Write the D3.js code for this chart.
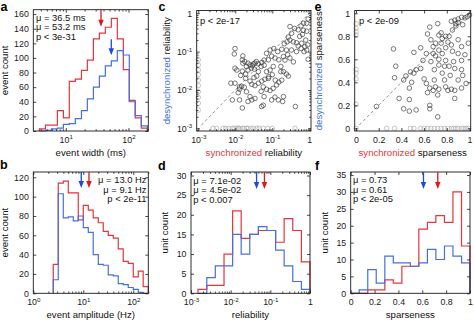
<!DOCTYPE html>
<meta charset="utf-8">
<style>

body {
  margin: 0;
  background: white;
}

svg {
  display: block;
  font-family: "Liberation Sans", Arial, sans-serif;
}

.axis {
  color: #1a1a1a;
}

.axis text {
  font-size: 8.8px;
  font-family: "Liberation Sans", Arial, sans-serif;
}

.axis line {
  stroke-width: 0.8px;
}

.frame {
  fill: none;
  stroke: #1a1a1a;
  stroke-width: 0.9px;
}

.lab {
  font-size: 9.6px;
  fill: #111;
}

.leg {
  font-size: 9.4px;
  fill: #111;
}

.panel-id {
  font-size: 12.5px;
  font-weight: bold;
}

.hist {
  fill: none;
  stroke-width: 1.2px;
}

.dot {
  fill: none;
  stroke: #333;
  stroke-width: 0.65px;
}

.dot.zero {
  stroke: #aaa;
}

.diag {
  stroke: #888;
  stroke-width: 0.9px;
  stroke-dasharray: 3 2.5;
}

</style>
<svg></svg>
<script src="https://cdn.jsdelivr.net/npm/d3@7"></script>
<script>

var width = 474;
var height = 321;
var red = '#e8343d';
var blue = '#4470e2';
var redArrow = '#e0161f';
var blueArrow = '#1f4adc';

// a: event width (ms)
var widthEdges = [3.8, 4.74, 5.91, 7.36, 9.17, 11.4, 14.2, 17.8, 22.1, 27.6, 34.4, 42.8, 53.3, 66.4, 82.8, 103, 128, 160, 200];
var widthSync = [3, 8, 8, 28, 18, 68, 71, 83, 97, 126, 134, 142, 154, 126, 84, 42, 18, 4];
var widthDesync = [0, 1, 3, 4, 9, 10, 17, 28, 44, 60, 75, 89, 96, 110, 104, 40, 21, 7];
var widthMeans = [36.5, 53.2];
var widthText = ['\u03bc = 36.5 ms', '\u03bc = 53.2 ms', 'p < 3e-31'];

// b: event amplitude (Hz)
var ampEdges = [2.51, 3.16, 3.98, 5.01, 6.31, 7.94, 10, 12.6, 15.8, 20, 25.1, 31.6, 39.8, 50.1, 63.1, 79.4, 100, 126, 158, 200];
var ampSync = [30, 114, 116, 104, 104, 76, 91, 86, 78, 73, 64, 60, 57, 46, 33, 31, 17, 23, 7];
var ampDesync = [14, 103, 78, 79, 75, 80, 68, 63, 40, 30, 29, 19, 18, 10, 9, 6, 4, 1, 0];
var ampMeans = [13.0, 9.1];
var ampText = ['\u03bc = 13.0 Hz', '\u03bc = 9.1 Hz', 'p < 2e-11'];

// c: reliability per unit, synchronized vs desynchronized
var relSync = [0.93, 0.6, 0.3, 0.5, 0.69, 0.85, 0.33, 0.27, 0.25, 0.21, 0.3, 0.37, 0.45, 0.62, 0.76, 0.6, 0.85, 0.72, 0.93, 0.45,
  0.33, 0.24, 0.18, 0.14, 0.11, 0.087, 0.07, 0.096, 0.078, 0.06, 0.052, 0.042, 0.034, 0.029, 0.025, 0.02, 0.016, 0.0155, 0.016, 0.0098,
  0.0094, 0.118, 0.15, 0.2, 0.26, 0.22, 0.17, 0.3, 0.37, 0.2, 0.17, 0.24, 0.27, 0.106, 0.087, 0.07, 0.1, 0.08, 0.063, 0.052,
  0.042, 0.034, 0.028, 0.057, 0.07, 0.087, 0.105, 0.13, 0.15, 0.18, 0.12, 0.05, 0.06, 0.034, 0.028, 0.022, 0.025, 0.02, 0.0175, 0.0148,
  0.013, 0.012, 0.013, 0.0155, 0.042, 0.033, 0.027, 0.022, 0.019, 0.0155, 0.014, 0.019, 0.025, 0.032, 0.038, 0.05, 0.06, 0.037, 0.031, 0.022,
  0.018, 0.011, 0.0098, 0.0076, 0.0098, 0.013, 0.096, 0.118, 0.145, 0.2, 0.19, 0.0515, 0.057, 0.42, 0.0083, 0.078, 0.4, 0.55, 0.8, 0.9,
  0.65, 0.5, 0.7, 0.85];
var relDesync = [0.71, 0.47, 0.45, 0.37, 0.36, 0.34, 0.3, 0.24, 0.18, 0.16, 0.2, 0.18, 0.17, 0.165, 0.135, 0.12, 0.11, 0.1, 0.063, 0.1,
  0.11, 0.11, 0.115, 0.1, 0.12, 0.11, 0.09, 0.076, 0.061, 0.06, 0.052, 0.048, 0.05, 0.043, 0.045, 0.041, 0.05, 0.061, 0.077, 0.12,
  0.087, 0.068, 0.061, 0.074, 0.083, 0.06, 0.041, 0.068, 0.054, 0.03, 0.03, 0.026, 0.023, 0.041, 0.033, 0.03, 0.025, 0.022, 0.019, 0.017,
  0.015, 0.013, 0.014, 0.012, 0.0104, 0.0097, 0.011, 0.0135, 0.016, 0.018, 0.018, 0.0092, 0.0067, 0.006, 0.0055, 0.005, 0.0067, 0.009, 0.0118, 0.0125,
  0.0105, 0.0085, 0.0055, 0.0034, 0.03, 0.035, 0.037, 0.033, 0.026, 0.031, 0.024, 0.02, 0.017, 0.021, 0.023, 0.041, 0.044, 0.055, 0.048, 0.05,
  0.055, 0.033, 0.037, 0.015, 0.015, 0.012, 0.0055, 0.0065, 0.0055, 0.0067, 0.005, 0.0037, 0.004, 0.0037, 0.0055, 0.02, 0.4, 0.25, 0.2, 0.15,
  0.28, 0.14, 0.55, 0.55];
// units silent in one state, drawn on the floor of the other axis
var relSyncOnly = [0.0025, 0.0031, 0.0047, 0.0055, 0.0067, 0.0083, 0.0094, 0.011, 0.012, 0.013, 0.0155, 0.0175, 0.02, 0.022, 0.0265, 0.031, 0.038, 0.044, 0.057, 0.075, 0.1, 0.41];
var relDesyncOnly = [0.061, 0.045, 0.033, 0.025, 0.018, 0.013, 0.009, 0.0064, 0.0045, 0.003];
var relFloor = 0.001;
var relDiag = [0.0012, 1];

// d: reliability histogram
var relEdges = [0.0015, 0.0025, 0.0041, 0.0068, 0.0112, 0.0184, 0.0303, 0.0499, 0.0822, 0.136, 0.223, 0.368, 0.607, 1];
var relHistSync = [1, 2, 2, 10, 21, 14, 15, 16, 16, 13, 19, 16, 8];
var relHistDesync = [0, 4, 7, 7, 15, 10, 15, 17, 16, 11, 7, 3, 1];
var relMeans = [0.071, 0.045];
var relText = ['\u03bc = 7.1e-02', '\u03bc = 4.5e-02', 'p < 0.007'];

// e: sparseness per unit
var spSync = [1.0, 0.98, 0.96, 0.93, 0.9, 0.88, 0.9, 0.87, 0.84, 0.94, 0.88, 0.85, 0.72, 0.65, 0.63, 0.75, 0.73, 0.79, 0.76, 0.82,
  0.81, 0.9, 0.99, 0.66, 0.7, 0.75, 0.84, 0.93, 0.79, 0.73, 0.68, 0.62, 0.7, 0.76, 0.85, 0.9, 0.96, 0.73, 0.79, 0.86,
  0.93, 0.66, 0.51, 0.59, 0.73, 0.78, 0.87, 0.93, 0.69, 0.76, 0.83, 0.57, 0.53, 0.48, 0.51, 0.44, 0.42, 0.34, 0.35, 0.33,
  0.49, 0.6, 0.62, 0.69, 0.78, 0.9, 0.94, 0.65, 0.68, 0.7, 0.73, 0.79, 0.84, 0.81, 0.87, 0.93, 0.63, 0.72, 0.87, 0.47,
  0.38, 0.47, 0.42, 0.47, 0.53, 0.65, 0.65, 0.72, 0.18, 0.97, 0.82, 0.68, 0.57];
var spDesync = [0.985, 0.97, 0.96, 0.965, 0.95, 0.91, 0.92, 0.94, 0.93, 0.9, 0.89, 0.855, 0.91, 0.88, 0.82, 0.83, 0.81, 0.8, 0.78, 0.8,
  0.75, 0.77, 0.74, 0.77, 0.74, 0.74, 0.725, 0.71, 0.7, 0.68, 0.65, 0.65, 0.63, 0.65, 0.67, 0.65, 0.64, 0.6, 0.59, 0.58,
  0.59, 0.58, 0.66, 0.59, 0.55, 0.54, 0.52, 0.51, 0.51, 0.48, 0.46, 0.52, 0.51, 0.49, 0.48, 0.455, 0.42, 0.44, 0.54, 0.69,
  0.4, 0.43, 0.39, 0.42, 0.42, 0.42, 0.46, 0.35, 0.33, 0.36, 0.34, 0.36, 0.34, 0.33, 0.33, 0.35, 0.31, 0.29, 0.26, 0.35,
  0.26, 0.25, 0.17, 0.15, 0.16, 0.2, 0.17, 0.1, 0.19, 0.39, 0.54, 0.71, 0.7];
var spSyncOnly = [0, 0.27, 0.34, 0.48, 0.51, 0.57, 0.6, 0.63, 0.66, 0.69, 0.72, 0.75, 0.78, 0.81, 0.84, 0.86, 0.88, 0.9, 0.93, 0.95, 0.97, 0.99];
var spDesyncOnly = [0.21, 0.43, 0.48, 0.51, 0.81, 0.84, 0.87, 0.91];
var spFloor = 0;
var spDiag = [0.03, 1];

// f: sparseness histogram
var spEdges = [0, 0.071, 0.143, 0.214, 0.286, 0.357, 0.429, 0.5, 0.571, 0.643, 0.714, 0.786, 0.857, 0.929, 1];
var spHistSync = [0, 0, 1, 1, 4, 3, 8, 8, 19, 21, 23, 21, 30, 14];
var spHistDesync = [0, 1, 7, 3, 11, 9, 9, 8, 9, 13, 10, 14, 11, 9];
var spMeans = [0.73, 0.61];
var spText = ['\u03bc = 0.73', '\u03bc = 0.61', 'p < 2e-05'];

// tick values and labels
var widthTicks = [10, 100];
var widthTickLabels = [['10', '1'], ['10', '2']];
var countTicksA = [0, 20, 40, 60, 80, 100, 120, 140, 160];
var ampTicks = [1, 10, 100];
var ampTickLabels = [['10', '0'], ['10', '1'], ['10', '2']];
var countTicksB = [0, 20, 40, 60, 80, 100, 120];
var relTicks = [0.001, 0.01, 0.1, 1];
var relTickLabels = [['10', '-3'], ['10', '-2'], ['10', '-1'], ['1', null]];
var countTicksD = [0, 5, 10, 15, 20, 25, 30];
var spTicks = [0, 0.2, 0.4, 0.6, 0.8, 1];
var spTickLabels = ['0', '0.2', '0.4', '0.6', '0.8', '1'];
var countTicksF = [0, 5, 10, 15, 20, 25, 30, 35];

var svg = d3.select('svg')
  .attr('width', width)
  .attr('height', height);

function setLabels (sel, values, labels) {
  sel.selectAll('.tick text').each(function (d) {
    var i = values.indexOf(d);
    var l = labels ? labels[i] : String(d);
    var t = d3.select(this).text(null);
    if (typeof l === 'string') { t.text(l); return; }
    t.append('tspan').text(l[0]);
    if (l[1] != null) t.append('tspan').attr('font-size', '6.2px').attr('dy', -3.4).text(l[1]);
  });
}

function axes (g, b, x, y, o) {
  var tk = 3, mk = 1.8;
  var noDomain = function (s) { s.select('.domain').remove(); };

  var bx = g.append('g').attr('class', 'axis').attr('transform', 'translate(0,' + b.y1 + ')')
    .call(d3.axisBottom(x).tickValues(o.xt).tickSize(-tk).tickPadding(5.4)).call(noDomain);
  setLabels(bx, o.xt, o.xl);
  g.append('g').attr('class', 'axis').attr('transform', 'translate(0,' + b.y0 + ')')
    .call(d3.axisTop(x).tickValues(o.xt).tickSize(-tk).tickFormat('')).call(noDomain);

  var by = g.append('g').attr('class', 'axis').attr('transform', 'translate(' + b.x0 + ',0)')
    .call(d3.axisLeft(y).tickValues(o.yt).tickSize(-tk).tickPadding(4.5)).call(noDomain);
  setLabels(by, o.yt, o.yl);
  g.append('g').attr('class', 'axis').attr('transform', 'translate(' + b.x1 + ',0)')
    .call(d3.axisRight(y).tickValues(o.yt).tickSize(-tk).tickFormat('')).call(noDomain);

  // minor ticks on log axes
  if (o.xlog) {
    var xm = x.ticks().filter(function (v) { return o.xt.indexOf(v) < 0; });
    g.append('g').attr('class', 'axis').attr('transform', 'translate(0,' + b.y1 + ')')
      .call(d3.axisBottom(x).tickValues(xm).tickSize(-mk).tickFormat('')).call(noDomain);
    g.append('g').attr('class', 'axis').attr('transform', 'translate(0,' + b.y0 + ')')
      .call(d3.axisTop(x).tickValues(xm).tickSize(-mk).tickFormat('')).call(noDomain);
  }
  if (o.ylog) {
    var ym = y.ticks().filter(function (v) { return o.yt.indexOf(v) < 0; });
    g.append('g').attr('class', 'axis').attr('transform', 'translate(' + b.x0 + ',0)')
      .call(d3.axisLeft(y).tickValues(ym).tickSize(-mk).tickFormat('')).call(noDomain);
    g.append('g').attr('class', 'axis').attr('transform', 'translate(' + b.x1 + ',0)')
      .call(d3.axisRight(y).tickValues(ym).tickSize(-mk).tickFormat('')).call(noDomain);
  }

  g.append('rect').attr('class', 'frame')
    .attr('x', b.x0).attr('y', b.y0)
    .attr('width', b.x1 - b.x0).attr('height', b.y1 - b.y0);
}

function xLabel (g, cx, yb, parts) {
  var t = g.append('text').attr('class', 'lab').attr('x', cx).attr('y', yb).attr('text-anchor', 'middle');
  parts.forEach(function (p) { t.append('tspan').attr('fill', p[1]).text(p[0]); });
}

function yLabel (g, xb, cy, parts) {
  var t = g.append('text').attr('class', 'lab')
    .attr('transform', 'translate(' + xb + ',' + cy + ') rotate(-90)')
    .attr('text-anchor', 'middle');
  parts.forEach(function (p) { t.append('tspan').attr('fill', p[1]).text(p[0]); });
}

function legend (g, x, y0, lines, anchor) {
  var colors = [red, blue, '#111'];
  g.append('g').selectAll('text')
    .data(lines)
    .enter().append('text')
    .attr('class', 'leg')
    .attr('x', x)
    .attr('y', function (d, i) { return y0 + i * 9.4; })
    .attr('text-anchor', anchor || 'start')
    .attr('fill', function (d, i) { return colors[i]; })
    .text(function (d) { return d; });
}

function arrow (g, xp, top, len, color) {
  g.append('line')
    .attr('x1', xp).attr('x2', xp)
    .attr('y1', top).attr('y2', top + len - 5)
    .attr('stroke', color).attr('stroke-width', 1.3);
  g.append('path')
    .attr('d', 'M' + (xp - 2.7) + ',' + (top + len - 7) + 'L' + (xp + 2.7) + ',' + (top + len - 7) + 'L' + xp + ',' + (top + len) + 'Z')
    .attr('fill', color);
}

function stairs (g, edges, vals, x, y, color) {
  var pts = [[edges[0], 0]];
  vals.forEach(function (v, i) { pts.push([edges[i], v]); });
  pts.push([edges[edges.length - 1], 0]);
  var line = d3.line()
    .curve(d3.curveStepAfter)
    .x(function (d) { return x(d[0]); })
    .y(function (d) { return y(d[1]); });
  g.append('path').attr('class', 'hist').attr('stroke', color).attr('d', line(pts));
}

function panelId (t, x, y) {
  svg.append('text').attr('class', 'panel-id').attr('x', x).attr('y', y).text(t);
}

// ---- panel a ----
(function () {
  var b = {x0: 33.3, x1: 148.3, y0: 9.7, y1: 131};
  var x = d3.scaleLog().domain([3.04, 207]).range([b.x0, b.x1]);
  var y = d3.scaleLinear().domain([0, 166]).range([b.y1, b.y0]);
  var g = svg.append('g');
  stairs(g, widthEdges, widthSync, x, y, red);
  stairs(g, widthEdges, widthDesync, x, y, blue);
  axes(g, b, x, y, {xt: widthTicks, xl: widthTickLabels, yt: countTicksA, xlog: true});
  arrow(g, x(widthMeans[0]), b.y0, 17, redArrow);
  arrow(g, x(widthMeans[1]), b.y0 + 29.5, 16, blueArrow);
  legend(g, b.x0 + 2.7, 21, widthText);
  xLabel(g, (b.x0 + b.x1) / 2, 155.5, [['event width (ms)', '#111']]);
  yLabel(g, 8, (b.y0 + b.y1) / 2, [['event count', '#111']]);
  panelId('a', 0.5, 10.5);
})();

// ---- panel b ----
(function () {
  var b = {x0: 33.3, x1: 148.3, y0: 172, y1: 293.3};
  var x = d3.scaleLog().domain([1, 200]).range([b.x0, b.x1]);
  var y = d3.scaleLinear().domain([0, 125.5]).range([b.y1, b.y0]);
  var g = svg.append('g');
  stairs(g, ampEdges, ampSync, x, y, red);
  stairs(g, ampEdges, ampDesync, x, y, blue);
  axes(g, b, x, y, {xt: ampTicks, xl: ampTickLabels, yt: countTicksB, xlog: true});
  arrow(g, x(ampMeans[1]), b.y0, 16, blueArrow);
  arrow(g, x(ampMeans[0]), b.y0, 16, redArrow);
  legend(g, b.x1 - 1.8, 183.2, ampText, 'end');
  xLabel(g, (b.x0 + b.x1) / 2, 317.5, [['event amplitude (Hz)', '#111']]);
  yLabel(g, 7.5, (b.y0 + b.y1) / 2, [['event count', '#111']]);
  panelId('b', 0, 168.5);
})();

// ---- panel c ----
(function () {
  var b = {x0: 196.7, x1: 311, y0: 10.5, y1: 131};
  var x = d3.scaleLog().domain([0.000906, 1.11]).range([b.x0, b.x1]);
  var y = d3.scaleLog().domain([0.000851, 1.18]).range([b.y1, b.y0]);
  var g = svg.append('g');
  g.append('line').attr('class', 'diag')
    .attr('x1', x(relDiag[0])).attr('y1', y(relDiag[0]))
    .attr('x2', x(relDiag[1])).attr('y2', y(relDiag[1]));
  g.append('g').selectAll('circle.zx')
    .data(relSyncOnly)
    .enter().append('circle')
    .attr('class', 'dot zero')
    .attr('cx', function (d) { return x(d); })
    .attr('cy', y(relFloor))
    .attr('r', 2.3);
  g.append('g').selectAll('circle.zy')
    .data(relDesyncOnly)
    .enter().append('circle')
    .attr('class', 'dot zero')
    .attr('cx', x(relFloor))
    .attr('cy', function (d) { return y(d); })
    .attr('r', 2.3);
  g.append('g').selectAll('circle')
    .data(relSync)
    .enter().append('circle')
    .attr('class', 'dot')
    .attr('cx', function (d) { return x(d); })
    .attr('cy', function (d, i) { return y(relDesync[i]); })
    .attr('r', 2.3);
  axes(g, b, x, y, {xt: relTicks, xl: relTickLabels, yt: relTicks, yl: relTickLabels, xlog: true, ylog: true});
  g.append('text').attr('class', 'leg').attr('x', 200).attr('y', 23.5).text('p < 2e-17');
  xLabel(g, (b.x0 + b.x1) / 2, 155.5, [['synchronized', red], [' reliability', '#111']]);
  yLabel(g, 170, (b.y0 + b.y1) / 2, [['desynchronized', blue], [' reliability', '#111']]);
  panelId('c', 158.5, 11);
})();

// ---- panel d ----
(function () {
  var b = {x0: 191, x1: 310, y0: 172, y1: 293.3};
  var x = d3.scaleLog().domain([0.001, 1]).range([b.x0, b.x1]);
  var y = d3.scaleLinear().domain([0, 30.9]).range([b.y1, b.y0]);
  var g = svg.append('g');
  stairs(g, relEdges, relHistSync, x, y, red);
  stairs(g, relEdges, relHistDesync, x, y, blue);
  axes(g, b, x, y, {xt: relTicks, xl: relTickLabels, yt: countTicksD, xlog: true});
  arrow(g, x(relMeans[1]), b.y0, 17, blueArrow);
  arrow(g, x(relMeans[0]), b.y0, 17, redArrow);
  legend(g, b.x0 + 2.3, 183.8, relText);
  xLabel(g, (b.x0 + b.x1) / 2, 317.5, [['reliability', '#111']]);
  yLabel(g, 168, (b.y0 + b.y1) / 2, [['unit count', '#111']]);
  panelId('d', 158, 169.5);
})();

// ---- panel e ----
(function () {
  var b = {x0: 354.7, x1: 470.7, y0: 10.5, y1: 131};
  var x = d3.scaleLinear().domain([-0.0115, 1.0106]).range([b.x0, b.x1]);
  var y = d3.scaleLinear().domain([-0.023, 1.024]).range([b.y1, b.y0]);
  var g = svg.append('g');
  g.append('line').attr('class', 'diag')
    .attr('x1', x(spDiag[0])).attr('y1', y(spDiag[0]))
    .attr('x2', x(spDiag[1])).attr('y2', y(spDiag[1]));
  g.append('g').selectAll('circle.zx')
    .data(spSyncOnly)
    .enter().append('circle')
    .attr('class', 'dot zero')
    .attr('cx', function (d) { return x(d); })
    .attr('cy', y(spFloor))
    .attr('r', 2.3);
  g.append('g').selectAll('circle.zy')
    .data(spDesyncOnly)
    .enter().append('circle')
    .attr('class', 'dot zero')
    .attr('cx', x(spFloor))
    .attr('cy', function (d) { return y(d); })
    .attr('r', 2.3);
  g.append('g').selectAll('circle')
    .data(spSync)
    .enter().append('circle')
    .attr('class', 'dot')
    .attr('cx', function (d) { return x(d); })
    .attr('cy', function (d, i) { return y(spDesync[i]); })
    .attr('r', 2.3);
  axes(g, b, x, y, {xt: spTicks, xl: spTickLabels, yt: spTicks, yl: spTickLabels});
  g.append('text').attr('class', 'leg').attr('x', 359).attr('y', 23.5).text('p < 2e-09');
  xLabel(g, (b.x0 + b.x1) / 2, 155.5, [['synchronized', red], [' sparseness', '#111']]);
  yLabel(g, 322, (b.y0 + b.y1) / 2, [['desynchronized', blue], [' sparseness', '#111']]);
  panelId('e', 314.5, 11);
})();

// ---- panel f ----
(function () {
  var b = {x0: 350.7, x1: 470, y0: 172, y1: 293.3};
  var x = d3.scaleLinear().domain([0, 1]).range([b.x0, b.x1]);
  var y = d3.scaleLinear().domain([0, 35.9]).range([b.y1, b.y0]);
  var g = svg.append('g');
  stairs(g, spEdges, spHistSync, x, y, red);
  stairs(g, spEdges, spHistDesync, x, y, blue);
  axes(g, b, x, y, {xt: spTicks, xl: spTickLabels, yt: countTicksF});
  arrow(g, x(spMeans[1]), b.y0, 17, blueArrow);
  arrow(g, x(spMeans[0]), b.y0, 17, redArrow);
  legend(g, b.x0 + 2.3, 183.3, spText);
  xLabel(g, (b.x0 + b.x1) / 2, 317.5, [['sparseness', '#111']]);
  yLabel(g, 328, (b.y0 + b.y1) / 2, [['unit count', '#111']]);
  panelId('f', 315, 169.5);
})();

</script>
